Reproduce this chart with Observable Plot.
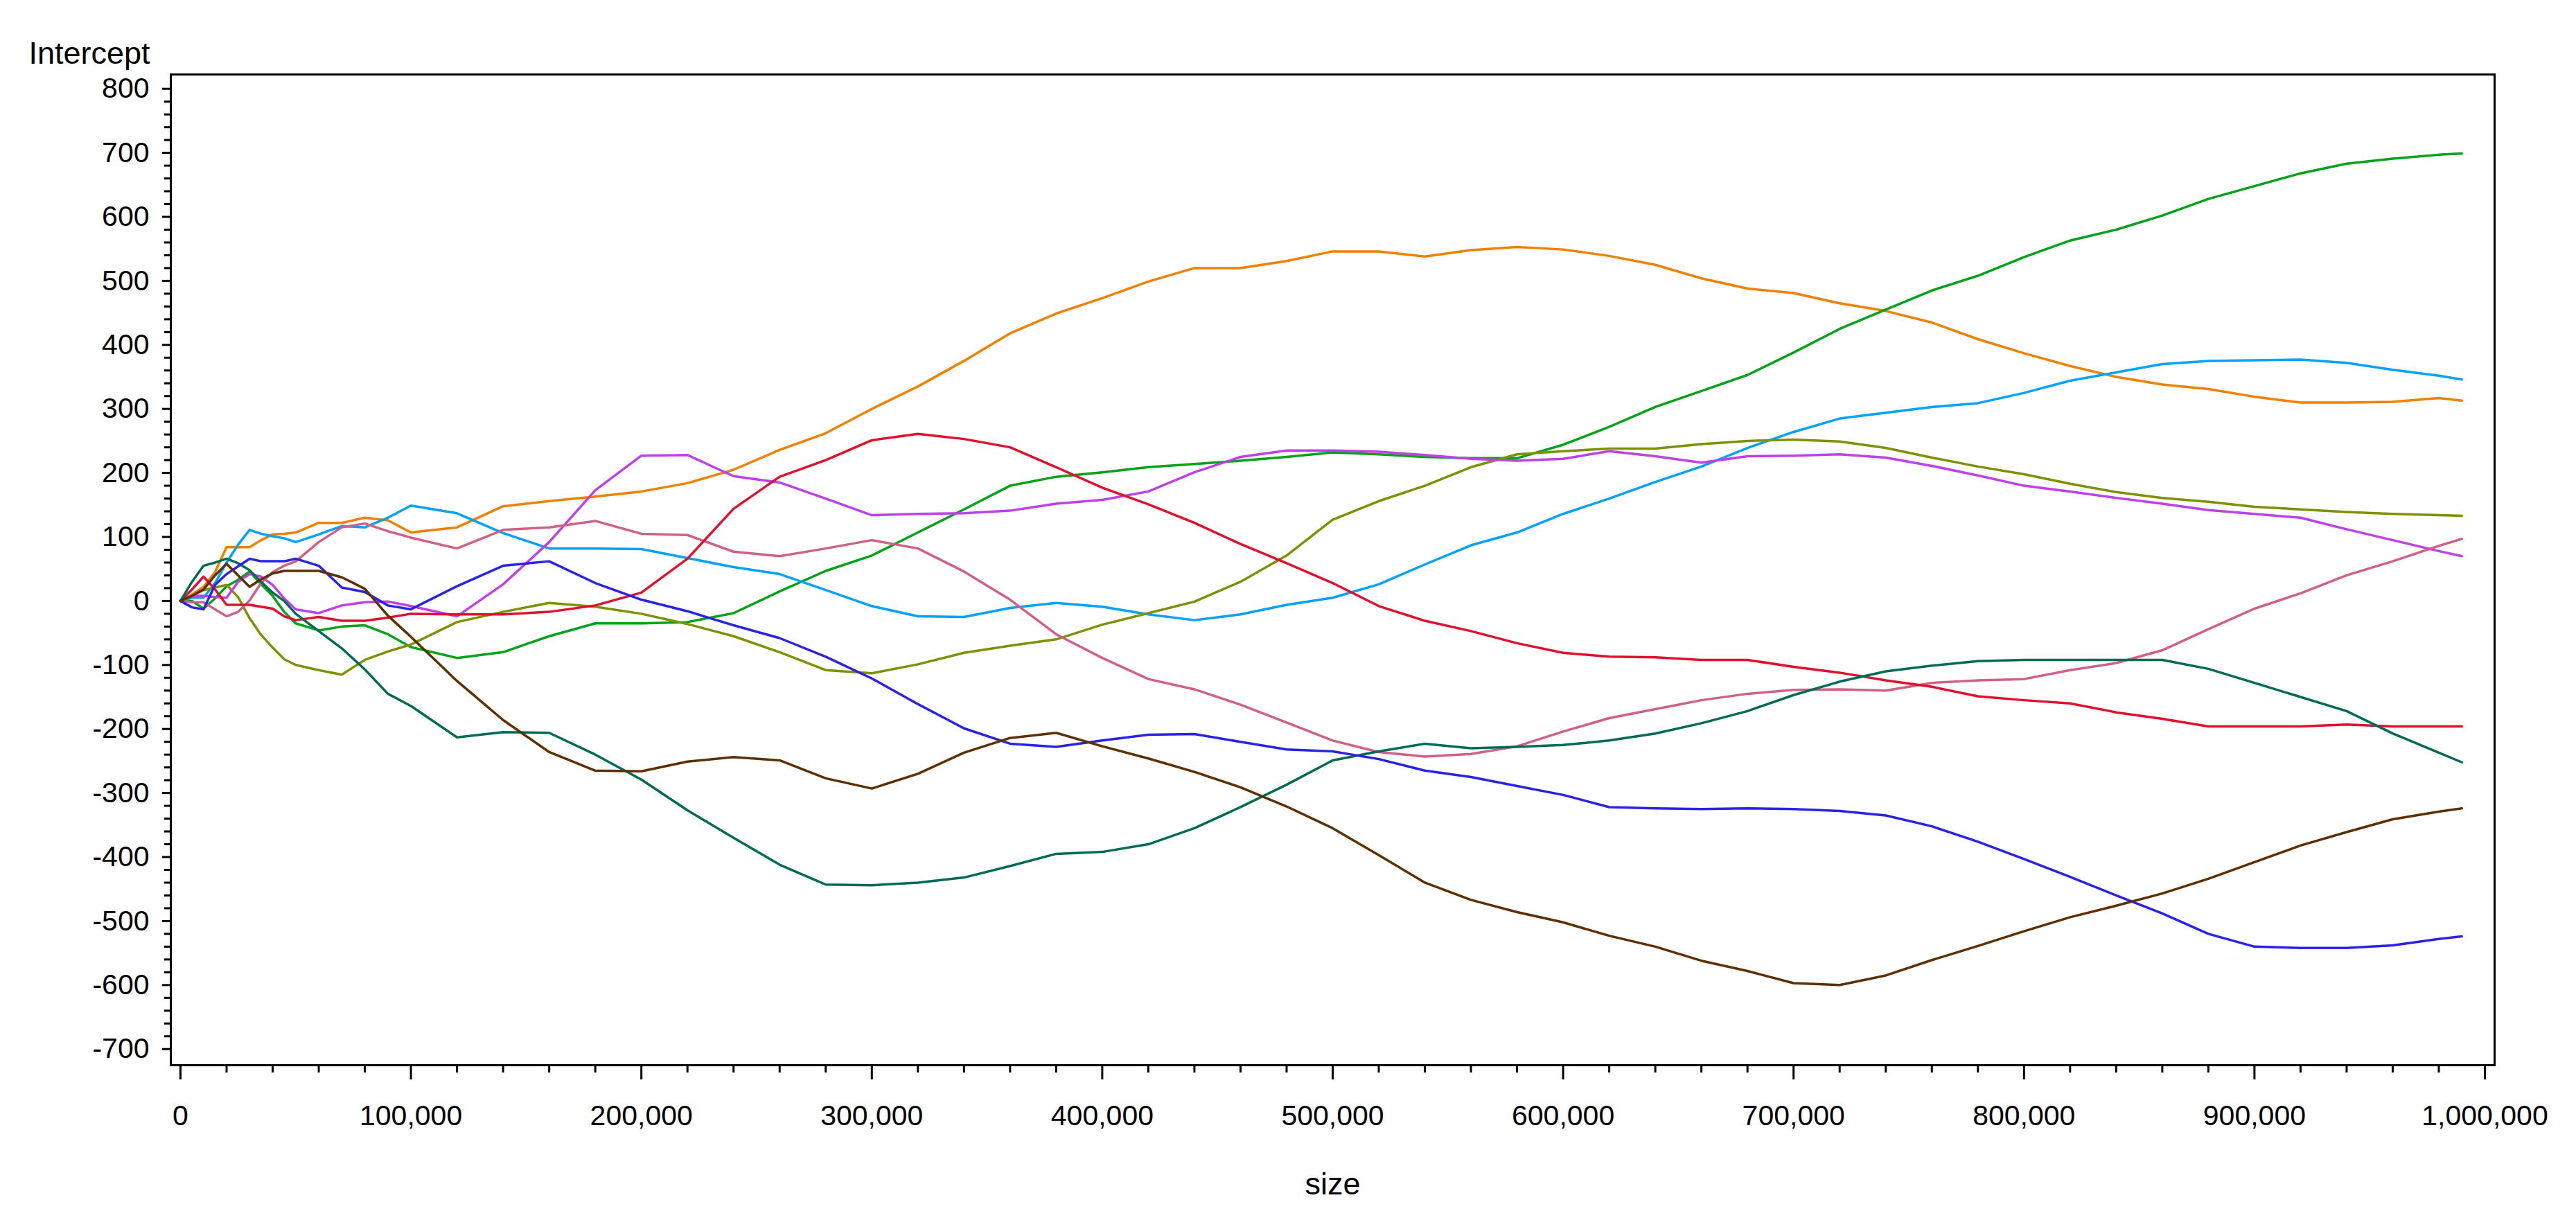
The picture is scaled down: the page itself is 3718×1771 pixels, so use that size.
<!DOCTYPE html>
<html>
<head>
<meta charset="utf-8">
<script src="https://cdn.jsdelivr.net/npm/d3@7"></script>
<script src="https://cdn.jsdelivr.net/npm/@observablehq/plot@0.6"></script>
<style>
  html, body { margin: 0; padding: 0; background: #ffffff; }
  #chart svg { display: block; }
</style>
</head>
<body>
<div id="chart"></div>
<script>
// sample sizes (x)
const sizes = [0,5000,10000,15000,20000,25000,30000,35000,40000,45000,50000,60000,70000,80000,90000,100000,
  120000,140000,160000,180000,200000,220000,240000,260000,280000,300000,320000,340000,360000,380000,400000,
  420000,440000,460000,480000,500000,520000,540000,560000,580000,600000,620000,640000,660000,680000,700000,
  720000,740000,760000,780000,800000,820000,840000,860000,880000,900000,920000,940000,960000,980000,990000];

// Intercept estimates, one array per series
const orangeSeries = [0,10,22,45,84,84,84,95,104,105,107,122,122,130,126,107,
  115,148,156,163,171,184,205,236,262,300,335,375,418,449,473,499,520,520,531,546,546,538,548,553,549,539,525,504,488,481,465,453,435,409,387,367,350,338,331,319,310,310,311,317,313];
const greenSeries = [0,0,-12,4,23,33,46,26,8,-17,-35,-46,-40,-38,-52,-72,
  -89,-80,-55,-35,-35,-33,-19,15,47,71,107,143,180,194,201,209,214,219,225,232,229,225,223,223,244,272,303,328,353,388,425,455,485,508,537,563,580,602,628,648,668,683,691,697,699];
const lightBlueSeries = [0,5,5,28,60,88,111,105,101,98,92,104,117,115,130,149,
  137,106,82,82,81,67,53,42,17,-8,-24,-25,-11,-3,-9,-21,-30,-21,-6,5,26,57,87,107,136,160,186,210,239,264,285,294,303,309,325,344,357,370,375,376,377,372,361,352,346];
const oliveSeries = [0,8,17,21,25,6,-27,-53,-73,-91,-100,-108,-115,-92,-79,-68,
  -33,-17,-3,-9,-20,-36,-55,-80,-108,-113,-99,-81,-70,-60,-37,-19,-1,30,71,127,156,180,209,229,234,238,238,245,250,252,249,239,224,210,198,183,170,161,155,147,143,139,136,134,133];
const magentaSeries = [0,8,8,6,5,30,42,38,25,4,-13,-19,-7,-2,-1,-8,
  -24,26,92,173,227,228,195,185,160,134,136,137,141,152,158,171,201,225,235,235,233,228,222,219,222,234,226,216,226,227,229,224,211,196,180,171,161,152,142,136,130,112,95,78,70];
const pinkSeries = [0,-2,-2,-13,-24,-17,1,28,45,55,62,92,115,121,109,99,
  82,111,115,125,105,103,77,70,82,95,82,46,2,-52,-89,-122,-138,-162,-190,-218,-236,-243,-239,-227,-204,-183,-169,-155,-145,-139,-138,-140,-128,-124,-122,-108,-97,-77,-44,-12,12,40,62,86,97];
const redSeries = [0,18,38,18,-6,-6,-6,-9,-12,-24,-30,-25,-31,-31,-26,-20,
  -21,-21,-17,-7,13,66,144,194,220,251,261,253,240,209,177,151,122,89,59,28,-8,-31,-47,-66,-81,-87,-88,-92,-92,-103,-112,-124,-134,-149,-155,-160,-174,-184,-196,-196,-196,-193,-196,-196,-196];
const tealSeries = [0,30,55,60,66,59,48,30,13,0,-20,-47,-74,-107,-145,-164,
  -213,-205,-206,-240,-279,-327,-370,-412,-443,-444,-440,-432,-414,-395,-392,-380,-355,-322,-287,-249,-235,-223,-230,-228,-225,-218,-207,-191,-172,-147,-126,-110,-101,-94,-92,-92,-92,-92,-106,-128,-150,-172,-207,-237,-252];
const blueSeries = [0,-10,-13,25,42,54,66,62,62,62,66,55,21,14,-7,-13,
  23,55,62,28,2,-16,-38,-58,-87,-121,-161,-199,-223,-228,-218,-209,-208,-220,-232,-235,-247,-265,-275,-289,-303,-322,-324,-325,-324,-325,-328,-335,-352,-376,-403,-431,-460,-488,-520,-540,-542,-542,-538,-528,-524];
const brownSeries = [0,8,18,40,58,40,22,34,43,47,47,47,37,19,-23,-56,
  -125,-186,-236,-265,-266,-251,-244,-249,-277,-293,-270,-237,-214,-206,-227,-246,-267,-291,-321,-355,-397,-440,-467,-486,-502,-523,-540,-562,-578,-597,-600,-585,-561,-539,-516,-494,-476,-457,-434,-408,-382,-361,-341,-329,-324];

const seriesNames = ["Run 1","Run 2","Run 3","Run 4","Run 5","Run 6","Run 7","Run 8","Run 9","Run 10"];
const seriesColors = ["#f08000","#00a318","#00a2ff","#7f9000","#c040e8","#d06088","#e0102e","#006b55","#2a22e6","#5c3000"];
const seriesValues = [orangeSeries,greenSeries,lightBlueSeries,oliveSeries,magentaSeries,pinkSeries,redSeries,tealSeries,blueSeries,brownSeries];

// tick values
const xMajorTicks = [0,100000,200000,300000,400000,500000,600000,700000,800000,900000,1000000];
const xMinorTicks = d3.range(0, 1000001, 20000).filter(v => v % 100000 !== 0);
const yMajorTicks = [-700,-600,-500,-400,-300,-200,-100,0,100,200,300,400,500,600,700,800];
const yMinorTicks = d3.range(-700, 801, 20).filter(v => v % 100 !== 0);

const rows = seriesNames.flatMap((name, k) =>
  seriesValues[k].map((v, i) => ({size: sizes[i], value: v, run: name})));

const chart = Plot.plot({
  width: 3718,
  height: 1771,
  marginLeft: 246,
  marginRight: 118,
  marginTop: 107,
  marginBottom: 234,
  style: {fontFamily: "Arial, 'Liberation Sans', sans-serif", fontSize: "41px", background: "#ffffff", color: "#000000"},
  x: {domain: [-4209, 1004209]},
  y: {domain: [-725.2, 822.4]},
  color: {type: "ordinal", domain: seriesNames, range: seriesColors},
  marks: [
    Plot.line(rows, {x: "size", y: "value", z: "run", stroke: "run", strokeWidth: 3.5}),
    Plot.axisX({ticks: xMajorTicks, tickSize: 21, tickPadding: 36, tickFormat: d3.format(","), strokeWidth: 3, label: null}),
    Plot.axisX({ticks: xMinorTicks, tickSize: 11, tickFormat: () => "", strokeWidth: 3, label: null}),
    Plot.axisY({ticks: yMajorTicks, tickSize: 12, tickPadding: 19, tickFormat: d => String(d), strokeWidth: 3, label: null}),
    Plot.axisY({ticks: yMinorTicks, tickSize: 9, tickFormat: () => "", strokeWidth: 3, label: null}),
    Plot.frame({stroke: "#000000", strokeWidth: 3}),
    Plot.text(["Intercept"], {frameAnchor: "top-left", textAnchor: "end", lineAnchor: "bottom", dx: -30, dy: -16, fontSize: 45}),
    Plot.text(["size"], {frameAnchor: "bottom", lineAnchor: "bottom", dy: 186, fontSize: 45})
  ]
});
document.getElementById("chart").appendChild(chart);
</script>
</body>
</html>
